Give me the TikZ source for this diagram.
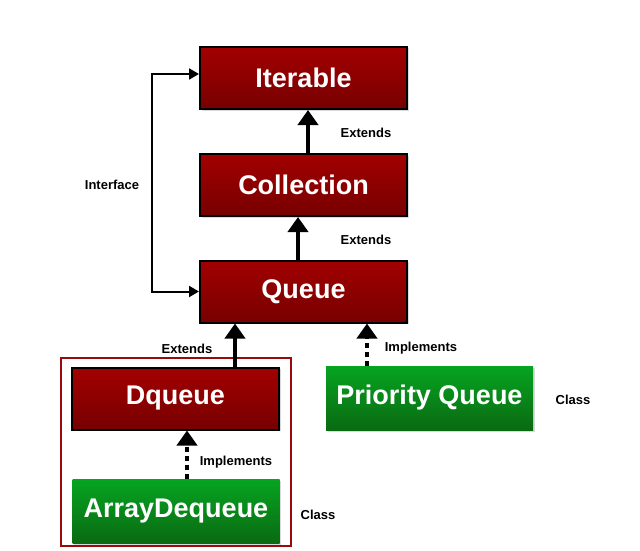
\documentclass[tikz,border=0pt]{standalone}
\usepackage{fontspec}
\setmainfont{Liberation Sans}
\usetikzlibrary{arrows.meta,shadows}
\definecolor{redtop}{HTML}{A20000}
\definecolor{redbot}{HTML}{770000}
\definecolor{greentop}{HTML}{06A421}
\definecolor{greenbot}{HTML}{0A6A12}
\definecolor{framered}{HTML}{9A0A0A}
\tikzset{
  iface/.style={draw=black,line width=2pt,top color=redtop,bottom color=redbot,
    minimum width=207pt,minimum height=62pt,text=white,font=\bfseries\fontsize{27}{30}\selectfont,
    drop shadow={opacity=0.3,shadow xshift=1.5pt,shadow yshift=-1.5pt}},
  klass/.style={top color=greentop,bottom color=greenbot,
    minimum width=207pt,minimum height=64pt,text=white,font=\bfseries\fontsize{27}{30}\selectfont,
    drop shadow={opacity=0.3,shadow xshift=1.5pt,shadow yshift=-1.5pt}},
  lbl/.style={font=\bfseries\fontsize{13}{15}\selectfont},
  extends/.style={line width=4pt,-{Triangle[length=15pt,width=20pt]}},
  implements/.style={line width=4pt,dash pattern=on 5pt off 4pt,-{Triangle[length=15pt,width=20pt]}}
}
\begin{document}
\begin{tikzpicture}[x=1pt,y=-1pt]
\useasboundingbox (0,0) rectangle (640,551);
\draw[framered,line width=1.5pt] (61,358) rectangle (291,546);

\node[iface] (iter) at (303.5,78) {Iterable};
\node[iface] (coll) at (303.5,185) {Collection};
\node[iface] (q) at (303.5,291.5) {Queue};
\node[iface] (dq) at (175.5,398.5) {Dqueue};
\node[klass] (ad) at (176,511) {ArrayDequeue};
\node[klass] (pq) at (429.5,398) {Priority Queue};

\draw[extends] ([xshift=4.5pt]coll.north) -- ([xshift=4.5pt]iter.south);
\draw[extends] ([xshift=-5.5pt]q.north) -- ([xshift=-5.5pt]coll.south);
\draw[extends] ([xshift=59.5pt]dq.north) -- ([xshift=59.5pt]dq.north |- q.south);
\draw[implements] ([xshift=-62.5pt]pq.north) -- ([xshift=-62.5pt]pq.north |- q.south);
\draw[implements] ([xshift=11pt]ad.north) -- ([xshift=11pt]ad.north |- dq.south);

\draw[line width=2pt,{Triangle[length=10pt,width=11pt]}-{Triangle[length=10pt,width=11pt]}]
  ([yshift=4pt]iter.west) -| (152,185) |- (q.west);

\node[lbl] (ext1) at (366,133) {Extends};
\node[lbl] (ext2) at (366,240) {Extends};
\node[lbl] (ext3) at (187,349) {Extends};
\node[lbl] (imp1) at (421,348) {Implements};
\node[lbl] (imp2) at (236,462) {Implements};
\node[lbl] (intf) at (112,185) {Interface};
\node[lbl] (cls1) at (318,515) {Class};
\node[lbl] (cls2) at (573,400) {Class};
\end{tikzpicture}
\end{document}
